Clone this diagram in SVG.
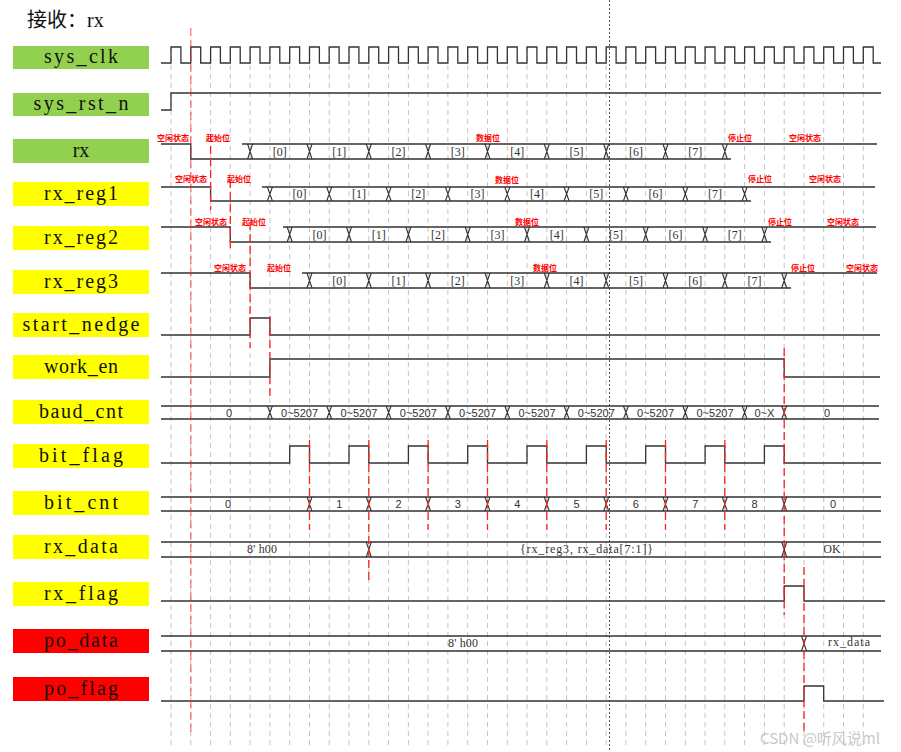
<svg xmlns="http://www.w3.org/2000/svg" width="901" height="752" viewBox="0 0 901 752">
<style>
.lbl{font-family:"Liberation Serif","Noto Sans CJK SC",serif;font-size:20px;fill:#111;text-anchor:middle}
.g{fill:#92D050}.y{fill:#FFFF00}.r{fill:#FF0000}
.w{fill:none;stroke:#333;stroke-width:1.3}
.x{fill:none;stroke:#333;stroke-width:1.1}
.grid{fill:none;stroke:#c4c4c4;stroke-width:1;stroke-dasharray:5,4}
.red{fill:none;stroke:#ff2020;stroke-width:1.3;stroke-dasharray:8,4}
.rl{font-family:"Noto Sans CJK SC",sans-serif;font-size:8px;fill:#ff0000;font-weight:bold}
.d{font-family:"Liberation Serif",serif;font-size:12px;fill:#333;text-anchor:middle}
.n{font-family:"Liberation Sans",sans-serif;font-size:11px;fill:#333;text-anchor:middle}
</style>
<rect width="901" height="752" fill="#fff"/>
<text x="27" y="27" font-family="'Noto Sans CJK SC',sans-serif" font-size="20" fill="#111">接收：<tspan font-family="Liberation Serif,serif">rx</tspan></text>

<g id="grid">
<path class="grid" d="M171,47V745M190.8,47V745M210.6,47V745M230.3,47V745M250.1,47V745M269.9,47V745M289.7,47V745M309.5,47V745M329.2,47V745M349,47V745M368.8,47V745M388.6,47V745M408.4,47V745M428.1,47V745M447.9,47V745M467.7,47V745M487.5,47V745M507.3,47V745M527,47V745M546.8,47V745M566.6,47V745M586.4,47V745M606.2,47V745M625.9,47V745M645.7,47V745M665.5,47V745M685.3,47V745M705.1,47V745M724.8,47V745M744.6,47V745M764.4,47V745M784.2,47V745M804,47V745M823.7,47V745M843.5,47V745M863.3,47V745"/>
<path d="M609.5,0V752" stroke="#555" stroke-width="1" stroke-dasharray="2,2" fill="none"/>
</g>

<g id="labels">
<g id="n-sys_clk"><rect class="g" x="13" y="46" width="136" height="23"/><text class="lbl" x="81" y="63" textLength="74" lengthAdjust="spacing">sys_clk</text></g>
<g id="n-sys_rst_n"><rect class="g" x="13" y="93" width="136" height="23"/><text class="lbl" x="81" y="110" textLength="95" lengthAdjust="spacing">sys_rst_n</text></g>
<g id="n-rx"><rect class="g" x="13" y="139" width="136" height="24"/><text class="lbl" x="81" y="157">rx</text></g>
<g id="n-rx_reg1"><rect class="y" x="13" y="182" width="136" height="24"/><text class="lbl" x="81" y="200" textLength="74" lengthAdjust="spacing">rx_reg1</text></g>
<g id="n-rx_reg2"><rect class="y" x="13" y="226" width="136" height="24"/><text class="lbl" x="81" y="244" textLength="74" lengthAdjust="spacing">rx_reg2</text></g>
<g id="n-rx_reg3"><rect class="y" x="13" y="270" width="136" height="24"/><text class="lbl" x="81" y="288" textLength="74" lengthAdjust="spacing">rx_reg3</text></g>
<g id="n-start_nedge"><rect class="y" x="13" y="313" width="136" height="24"/><text class="lbl" x="81" y="331" textLength="117" lengthAdjust="spacing">start_nedge</text></g>
<g id="n-work_en"><rect class="y" x="13" y="355" width="136" height="24"/><text class="lbl" x="81" y="373" textLength="74" lengthAdjust="spacing">work_en</text></g>
<g id="n-baud_cnt"><rect class="y" x="13" y="400" width="136" height="24"/><text class="lbl" x="81" y="418" textLength="84" lengthAdjust="spacing">baud_cnt</text></g>
<g id="n-bit_flag"><rect class="y" x="13" y="444" width="136" height="24"/><text class="lbl" x="81" y="462" textLength="84" lengthAdjust="spacing">bit_flag</text></g>
<g id="n-bit_cnt"><rect class="y" x="13" y="491" width="136" height="24"/><text class="lbl" x="81" y="509" textLength="74" lengthAdjust="spacing">bit_cnt</text></g>
<g id="n-rx_data"><rect class="y" x="13" y="535" width="136" height="24"/><text class="lbl" x="81" y="553" textLength="74" lengthAdjust="spacing">rx_data</text></g>
<g id="n-rx_flag"><rect class="y" x="13" y="582" width="136" height="24"/><text class="lbl" x="81" y="600" textLength="74" lengthAdjust="spacing">rx_flag</text></g>
<g id="n-po_data"><rect class="r" x="13" y="629" width="136" height="24"/><text class="lbl" x="81" y="647" textLength="74" lengthAdjust="spacing">po_data</text></g>
<g id="n-po_flag"><rect class="r" x="13" y="677" width="136" height="24"/><text class="lbl" x="81" y="695" textLength="74" lengthAdjust="spacing">po_flag</text></g>
</g>

<g id="waves">
<path class="w" d="M161,63H171V47H180.9V63H190.8V47H200.7V63H210.6V47H220.4V63H230.3V47H240.2V63H250.1V47H260V63H269.9V47H279.8V63H289.7V47H299.6V63H309.5V47H319.4V63H329.2V47H339.1V63H349V47H358.9V63H368.8V47H378.7V63H388.6V47H398.5V63H408.4V47H418.3V63H428.1V47H438V63H447.9V47H457.8V63H467.7V47H477.6V63H487.5V47H497.4V63H507.3V47H517.2V63H527V47H536.9V63H546.8V47H556.7V63H566.6V47H576.5V63H586.4V47H596.3V63H606.2V47H616.1V63H625.9V47H635.8V63H645.7V47H655.6V63H665.5V47H675.4V63H685.3V47H695.2V63H705.1V47H715V63H724.8V47H734.7V63H744.6V47H754.5V63H764.4V47H774.3V63H784.2V47H794.1V63H804V47H813.9V63H823.7V47H833.6V63H843.5V47H853.4V63H863.3V47H873.2V63H881"/>
<path class="w" d="M161,110H171V93H881"/>
<!-- rx -->
<path class="w" d="M161,144H190.8V159H731M242,144H877"/>
<path class="x" d="M247.6,144L252.6,159M252.6,144L247.6,159M307,144L312,159M312,144L307,159M366.3,144L371.3,159M371.3,144L366.3,159M425.6,144L430.6,159M430.6,144L425.6,159M485,144L490,159M490,144L485,159M544.3,144L549.3,159M549.3,144L544.3,159M603.7,144L608.7,159M608.7,144L603.7,159M663,144L668,159M668,144L663,159M722.3,144L727.3,159M727.3,144L722.3,159"/>
<!-- rx_reg1 -->
<path class="w" d="M161,187H210.6V201H751M262,187H875"/>
<path class="x" d="M267.4,187L272.4,201M272.4,187L267.4,201M326.7,187L331.7,201M331.7,187L326.7,201M386.1,187L391.1,201M391.1,187L386.1,201M445.4,187L450.4,201M450.4,187L445.4,201M504.8,187L509.8,201M509.8,187L504.8,201M564.1,187L569.1,201M569.1,187L564.1,201M623.4,187L628.4,201M628.4,187L623.4,201M682.8,187L687.8,201M687.8,187L682.8,201M742.1,187L747.1,201M747.1,187L742.1,201"/>
<!-- rx_reg2 -->
<path class="w" d="M161,227H230.3V242H771M283,227H876"/>
<path class="x" d="M287.2,227L292.2,242M292.2,227L287.2,242M346.5,227L351.5,242M351.5,227L346.5,242M405.9,227L410.9,242M410.9,227L405.9,242M465.2,227L470.2,242M470.2,227L465.2,242M524.5,227L529.5,242M529.5,227L524.5,242M583.9,227L588.9,242M588.9,227L583.9,242M643.2,227L648.2,242M648.2,227L643.2,242M702.6,227L707.6,242M707.6,227L702.6,242M761.9,227L766.9,242M766.9,227L761.9,242"/>
<!-- rx_reg3 -->
<path class="w" d="M161,273H250.1V288H791M302,273H877"/>
<path class="x" d="M307,273L312,288M312,273L307,288M366.3,273L371.3,288M371.3,273L366.3,288M425.6,273L430.6,288M430.6,273L425.6,288M485,273L490,288M490,273L485,288M544.3,273L549.3,288M549.3,273L544.3,288M603.7,273L608.7,288M608.7,273L603.7,288M663,273L668,288M668,273L663,288M722.3,273L727.3,288M727.3,273L722.3,288M781.7,273L786.7,288M786.7,273L781.7,288"/>
<!-- start_nedge, work_en -->
<path class="w" d="M161,335H250.1V318H269.9V335H880"/>
<path class="w" d="M161,377H269.9V359H784.2V377H880"/>
<!-- baud_cnt -->
<path class="w" d="M161,406H879M161,419H879"/>
<path class="x" d="M267.4,406L272.4,419M272.4,406L267.4,419M326.7,406L331.7,419M331.7,406L326.7,419M386.1,406L391.1,419M391.1,406L386.1,419M445.4,406L450.4,419M450.4,406L445.4,419M504.8,406L509.8,419M509.8,406L504.8,419M564.1,406L569.1,419M569.1,406L564.1,419M623.4,406L628.4,419M628.4,406L623.4,419M682.8,406L687.8,419M687.8,406L682.8,419M742.1,406L747.1,419M747.1,406L742.1,419M781.7,406L786.7,419M786.7,406L781.7,419"/>
<!-- bit_flag -->
<path class="w" d="M161,463H289.7V446H309.5V463H349V446H368.8V463H408.4V446H428.1V463H467.7V446H487.5V463H527V446H546.8V463H586.4V446H606.2V463H645.7V446H665.5V463H705.1V446H724.8V463H764.4V446H784.2V463H881"/>
<!-- bit_cnt -->
<path class="w" d="M161,497H881M161,511H881"/>
<path class="x" d="M307,497L312,511M312,497L307,511M366.3,497L371.3,511M371.3,497L366.3,511M425.6,497L430.6,511M430.6,497L425.6,511M485,497L490,511M490,497L485,511M544.3,497L549.3,511M549.3,497L544.3,511M603.7,497L608.7,511M608.7,497L603.7,511M663,497L668,511M668,497L663,511M722.3,497L727.3,511M727.3,497L722.3,511M781.7,497L786.7,511M786.7,497L781.7,511"/>
<!-- rx_data -->
<path class="w" d="M161,542H881M161,557H881"/>
<path class="x" d="M366.3,542L371.3,557M371.3,542L366.3,557M781.7,542L786.7,557M786.7,542L781.7,557"/>
<!-- rx_flag -->
<path class="w" d="M161,601H784.2V586H804V601H885"/>
<!-- po_data -->
<path class="w" d="M161,636H881M161,651H881"/>
<path class="x" d="M801.5,636L806.5,651M806.5,636L801.5,651"/>
<!-- po_flag -->
<path class="w" d="M161,701H804V686H823.7V701H884"/>
</g>

<g id="markers">
<path class="red" stroke-opacity="0.6" d="M190.8,28V735"/>
<path class="red" d="M210.6,134V210M230.3,180V252M250.1,222V348M269.9,316V396M309.5,440V530M368.8,440V580M428.1,440V530M487.5,440V530M546.8,440V530M606.2,440V530M665.5,440V530M724.8,440V530M784.2,348V615M804,567V735"/>
</g>

<g id="texts">
<text class="rl" x="157" y="141">空闲状态</text><text class="rl" x="206" y="141">起始位</text><text class="rl" x="476" y="141">数据位</text><text class="rl" x="728" y="141">停止位</text><text class="rl" x="789" y="141">空闲状态</text>
<text class="rl" x="175" y="182">空闲状态</text><text class="rl" x="227" y="182">起始位</text><text class="rl" x="495" y="183">数据位</text><text class="rl" x="748" y="182">停止位</text><text class="rl" x="809" y="182">空闲状态</text>
<text class="rl" x="195" y="225">空闲状态</text><text class="rl" x="242" y="225">起始位</text><text class="rl" x="515" y="225">数据位</text><text class="rl" x="768" y="225">停止位</text><text class="rl" x="827" y="225">空闲状态</text>
<text class="rl" x="214" y="271">空闲状态</text><text class="rl" x="267" y="271">起始位</text><text class="rl" x="533" y="271">数据位</text><text class="rl" x="791" y="271">停止位</text><text class="rl" x="846" y="271">空闲状态</text>

<text class="d" x="279.8" y="156">[0]</text><text class="d" x="339.2" y="156">[1]</text><text class="d" x="398.5" y="156">[2]</text><text class="d" x="457.8" y="156">[3]</text><text class="d" x="517.2" y="156">[4]</text><text class="d" x="576.5" y="156">[5]</text><text class="d" x="635.9" y="156">[6]</text><text class="d" x="695.2" y="156">[7]</text>
<text class="d" x="299.6" y="198">[0]</text><text class="d" x="358.9" y="198">[1]</text><text class="d" x="418.3" y="198">[2]</text><text class="d" x="477.6" y="198">[3]</text><text class="d" x="537" y="198">[4]</text><text class="d" x="596.3" y="198">[5]</text><text class="d" x="655.6" y="198">[6]</text><text class="d" x="715" y="198">[7]</text>
<text class="d" x="319.4" y="239">[0]</text><text class="d" x="378.7" y="239">[1]</text><text class="d" x="438.1" y="239">[2]</text><text class="d" x="497.4" y="239">[3]</text><text class="d" x="556.7" y="239">[4]</text><text class="d" x="616.1" y="239">[5]</text><text class="d" x="675.4" y="239">[6]</text><text class="d" x="734.8" y="239">[7]</text>
<text class="d" x="339.2" y="285">[0]</text><text class="d" x="398.5" y="285">[1]</text><text class="d" x="457.8" y="285">[2]</text><text class="d" x="517.2" y="285">[3]</text><text class="d" x="576.5" y="285">[4]</text><text class="d" x="635.9" y="285">[5]</text><text class="d" x="695.2" y="285">[6]</text><text class="d" x="754.5" y="285">[7]</text>

<text class="n" x="229" y="416.5">0</text><text class="n" x="299.6" y="416.5">0~5207</text><text class="n" x="358.9" y="416.5">0~5207</text><text class="n" x="418.3" y="416.5">0~5207</text><text class="n" x="477.6" y="416.5">0~5207</text><text class="n" x="537" y="416.5">0~5207</text><text class="n" x="596.3" y="416.5">0~5207</text><text class="n" x="655.6" y="416.5">0~5207</text><text class="n" x="715" y="416.5">0~5207</text><text class="n" x="764.4" y="416.5">0~X</text><text class="n" x="827" y="416.5">0</text>

<text class="n" x="228" y="508">0</text><text class="n" x="339.2" y="508">1</text><text class="n" x="398.5" y="508">2</text><text class="n" x="457.8" y="508">3</text><text class="n" x="517.2" y="508">4</text><text class="n" x="576.5" y="508">5</text><text class="n" x="635.9" y="508">6</text><text class="n" x="695.2" y="508">7</text><text class="n" x="754.5" y="508">8</text><text class="n" x="833" y="508">0</text>

<text class="d" x="262" y="553" textLength="30" lengthAdjust="spacing">8' h00</text>
<text class="d" x="586.5" y="553" textLength="133" lengthAdjust="spacing">{rx_reg3, rx_data[7:1]}</text>
<text class="d" x="832" y="553">OK</text>
<text class="d" x="463" y="647" textLength="30" lengthAdjust="spacing">8' h00</text>
<text class="d" x="849" y="646" textLength="42" lengthAdjust="spacing">rx_data</text>
<text x="760" y="744" font-family="'Noto Sans CJK SC',sans-serif" font-size="15" fill="#c8c8c8">CSDN @听风说ml</text>
</g>
</svg>
